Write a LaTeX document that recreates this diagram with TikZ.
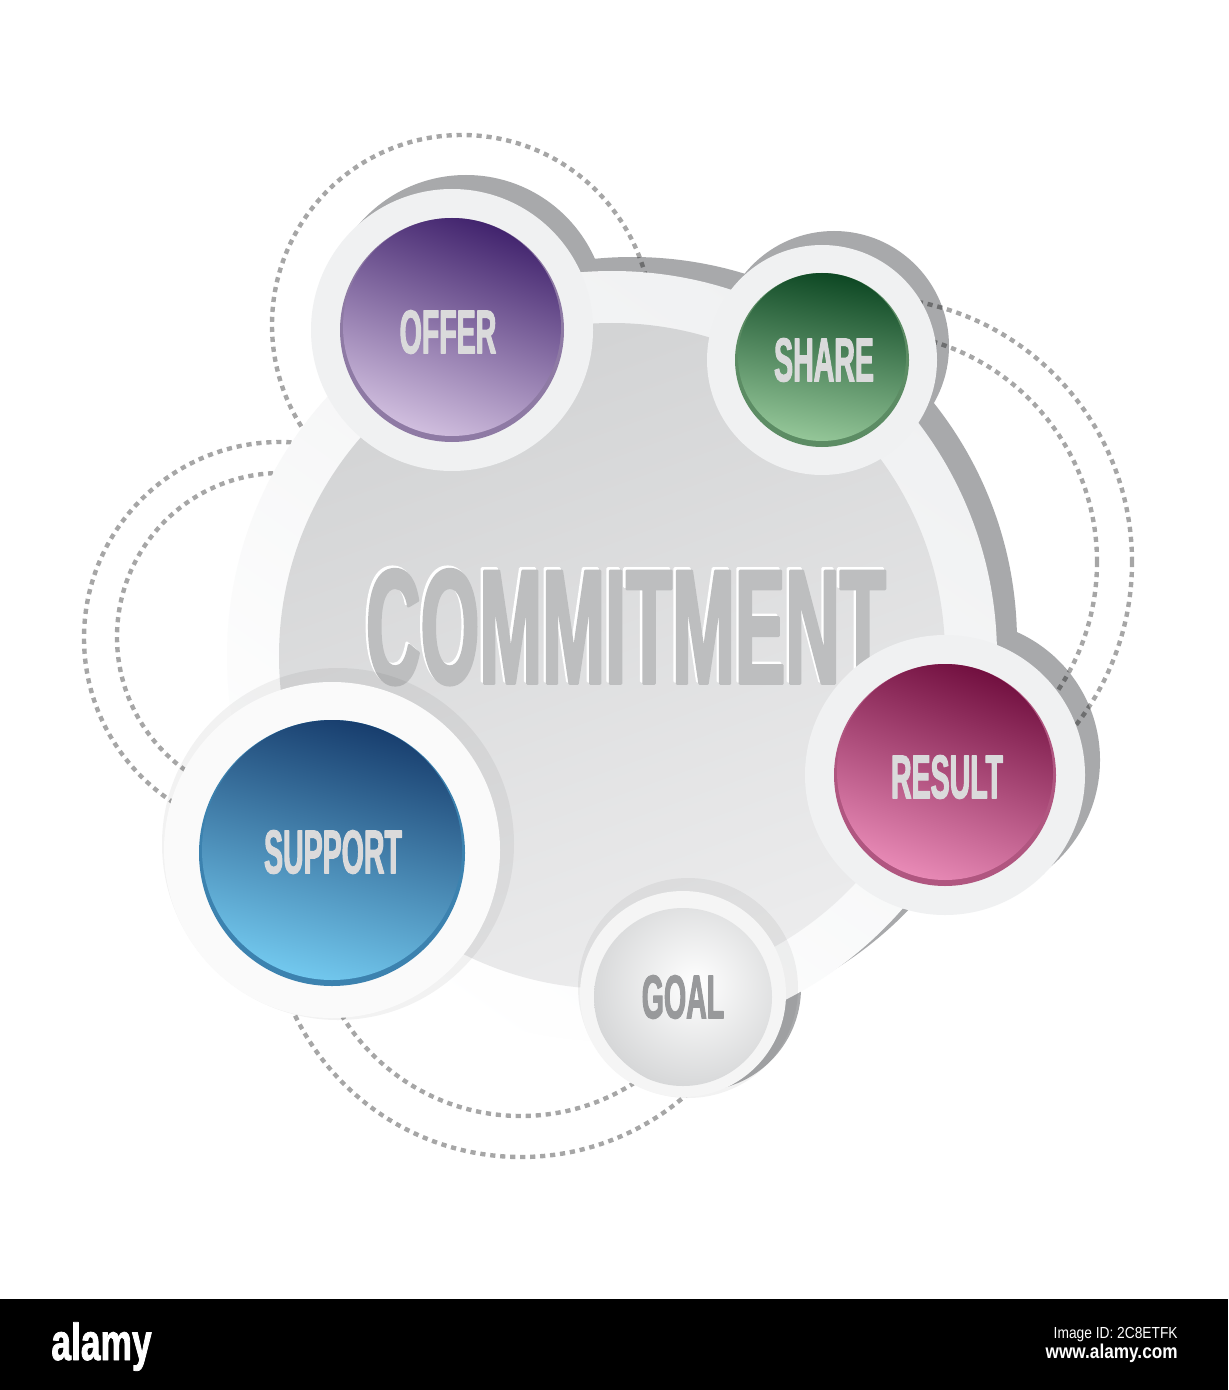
\documentclass[tikz,border=0pt]{standalone}
\usepackage{fontspec}
\newfontfamily\chunhan{Liberation Sans Bold}[FakeStretch=0.46, FakeBold=1.6]
\newfontfamily\chulogo{Liberation Sans Bold}[FakeStretch=0.68, FakeBold=1.5]
\newfontfamily\chuid{Liberation Sans}[FakeStretch=0.86]
\newfontfamily\chuweb{Liberation Sans Bold}[FakeStretch=0.86]
\definecolor{vienxam}{RGB}{168,169,171}
\definecolor{vongtrang}{RGB}{240,241,242}
\definecolor{nendam}{RGB}{210,211,212}
\definecolor{nennhat}{RGB}{236,236,237}
\definecolor{chuxam}{RGB}{218,218,219}
\definecolor{chunen}{RGB}{189,190,191}
\definecolor{chugoal}{RGB}{152,153,155}
\definecolor{timdam}{RGB}{66,36,110}
\definecolor{timgiua}{RGB}{98,70,140}
\definecolor{timnhat}{RGB}{208,190,222}
\definecolor{timvien}{RGB}{142,122,164}
\definecolor{ladam}{RGB}{14,72,36}
\definecolor{lagiua}{RGB}{46,108,66}
\definecolor{lanhat}{RGB}{148,198,152}
\definecolor{lavien}{RGB}{92,140,100}
\definecolor{hongdam}{RGB}{114,16,64}
\definecolor{honggiua}{RGB}{152,44,100}
\definecolor{hongnhat}{RGB}{232,138,182}
\definecolor{hongvien}{RGB}{176,86,128}
\definecolor{lamdam}{RGB}{24,62,110}
\definecolor{lamgiua}{RGB}{28,92,142}
\definecolor{lamnhat}{RGB}{114,200,238}
\definecolor{lamvien}{RGB}{60,130,175}
\definecolor{goalvien}{RGB}{214,215,216}
\begin{document}
\begin{tikzpicture}[x=0.5pt, y=-0.5pt, line join=round, line cap=round,
	bong/.style={fill=vienxam},
	vong/.style={fill=vongtrang},
	cham/.style={draw=black, draw opacity=0.35, line width=2.2pt, line cap=butt, dash pattern=on 2.6pt off 2.4pt},
	nhan/.style={inner sep=0pt, text=chuxam, font=\chunhan\fontsize{31}{31}\selectfont}]
	%Khung hình.
	\useasboundingbox (0,0) rectangle (1228,1390);
	\fill[white] (0,0) rectangle (1228,1390);
	%Gán tọa độ.
	\coordinate (T) at (612,656);
	\coordinate (OFFER) at (452,330);
	\coordinate (SHARE) at (822,360);
	\coordinate (RESULT) at (945,775);
	\coordinate (SUPPORT) at (332,850);
	\coordinate (GOAL) at (683,994);
	%Bóng xám.
	\fill[bong] (632,642) circle[radius=385];
	\fill[bong] (466,316) circle[radius=141];
	\fill[bong] (834,346) circle[radius=115];
	\fill[bong] (960,760) circle[radius=140];
	\fill[bong] (698,988) circle[radius=103];
	%Vòng tròn chấm.
	\draw[cham] (462,325) circle[radius=190];
	\draw[cham] (867,562) circle[radius=265];
	\draw[cham] (867,562) circle[radius=230];
	\draw[cham] (280,638) circle[radius=196];
	\draw[cham] (281,637) circle[radius=164];
	\draw[cham] (521,906) circle[radius=251];
	\draw[cham] (521,906) circle[radius=210];
	%Đĩa lớn.
	\shade[top color=vongtrang, bottom color=white, shading angle=-35] (T) circle[radius=385];
	\shade[top color=nendam, bottom color=nennhat, shading angle=20] (T) circle[radius=333];
	\node[inner sep=0pt, text=chunen, font=\chunhan\fontsize{82}{82}\selectfont] (commitment) at (626,626)
		{\rlap{\kern-1.2pt\raisebox{1.2pt}{\color{white}COMMITMENT}}COMMITMENT};
	%OFFER.
	\fill[vong] (OFFER) circle[radius=141];
	\fill[timvien] (OFFER) circle[radius=112];
	\shade[top color=timdam, middle color=timgiua, bottom color=timnhat, shading angle=-20] (452,327) circle[radius=109];
	\node[nhan] (offer) at (448,332) {OFFER};
	%SHARE.
	\fill[vong] (SHARE) circle[radius=115];
	\fill[lavien] (SHARE) circle[radius=87];
	\shade[top color=ladam, middle color=lagiua, bottom color=lanhat, shading angle=-10] (822,357) circle[radius=84];
	\node[nhan] (share) at (824,360) {SHARE};
	%RESULT.
	\fill[vong] (RESULT) circle[radius=140];
	\fill[hongvien] (RESULT) circle[radius=111];
	\shade[top color=hongdam, middle color=honggiua, bottom color=hongnhat, shading angle=-20] (945,772) circle[radius=108];
	\node[nhan] (result) at (947,777) {RESULT};
	%SUPPORT.
	\fill[black, opacity=0.05] (338,844) circle[radius=176];
	\fill[white!98!black] (SUPPORT) circle[radius=168];
	\fill[lamvien] (332,853) circle[radius=133];
	\shade[top color=lamdam, middle color=lamgiua, bottom color=lamnhat, shading angle=-15] (332,850) circle[radius=130];
	\node[nhan] (support) at (333,852) {SUPPORT};
	%GOAL.
	\fill[black, opacity=0.05] (688,988) circle[radius=110];
	\fill[white!96!black] (GOAL) circle[radius=103];
	\begin{scope}
		\clip (683,997) circle[radius=89];
		\shade[inner color=white, outer color=goalvien] (695,985) circle[radius=105];
	\end{scope}
	\node[nhan, text=chugoal] (goal) at (683,997) {GOAL};
	%Dải đen.
	\fill[black] (0,1299) rectangle (1228,1390);
	\node[inner sep=0pt, anchor=base west, text=white, font=\chulogo\fontsize{26}{26}\selectfont] (alamy) at (51,1360) {alamy};
	\node[inner sep=0pt, anchor=base east, text=white, font=\chuid\fontsize{8}{8}\selectfont] (imageid) at (1178,1338) {Image ID: 2C8ETFK};
	\node[inner sep=0pt, anchor=base east, text=white, font=\chuweb\fontsize{10}{10}\selectfont] (web) at (1178,1358) {www.alamy.com};
\end{tikzpicture}
\end{document}
